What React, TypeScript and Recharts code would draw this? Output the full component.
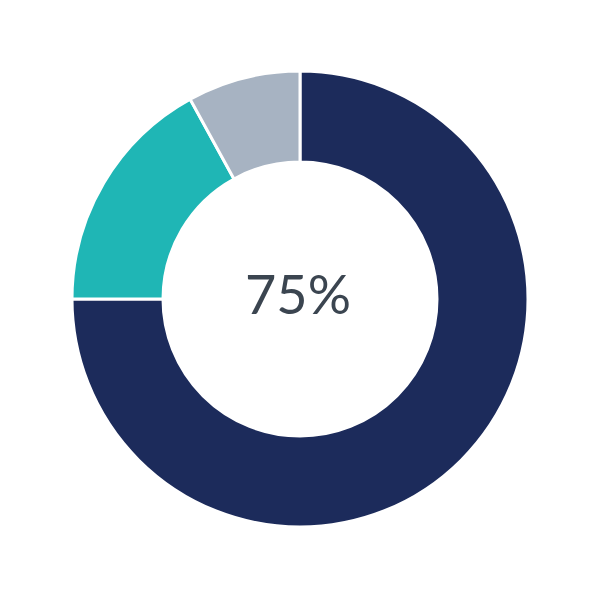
import React from "react";
import { PieChart, Pie, Cell, Label } from "recharts";

const categories = ["A", "B", "C"];
const values = [75, 17, 8];
const colors = ["#1c2b5b", "#1fb6b5", "#a7b3c2"];
const centerLabel = "75%";

const data = categories.map((name, i) => ({ name, value: values[i] }));

const CenterText = (props: any) => {
  const vb = props.viewBox || {};
  const cx = vb.cx ?? 292;
  const cy = vb.cy ?? 291;
  return (
    <text
      x={cx - 2}
      y={cy - 4}
      dy="0.355em"
      textAnchor="middle"
      fill="#3b4550"
      style={{ fontFamily: "Lato", fontSize: 54, fontWeight: 400 }}
    >
      {centerLabel}
    </text>
  );
};

export default function App() {
  return (
    <div style={{ width: 600, height: 600, background: "#fff" }}>
      <PieChart width={600} height={600} margin={{ top: 0, right: 0, bottom: 0, left: 0 }}>
        <Pie
          data={data}
          dataKey="value"
          nameKey="name"
          cx={292}
          cy={291}
          innerRadius={137}
          outerRadius={228}
          startAngle={90}
          endAngle={-270}
          stroke="#ffffff"
          strokeWidth={3}
          isAnimationActive={false}
        >
          {data.map((d, i) => (
            <Cell key={d.name} fill={colors[i]} />
          ))}
          <Label position="center" content={CenterText} />
        </Pie>
      </PieChart>
    </div>
  );
}
